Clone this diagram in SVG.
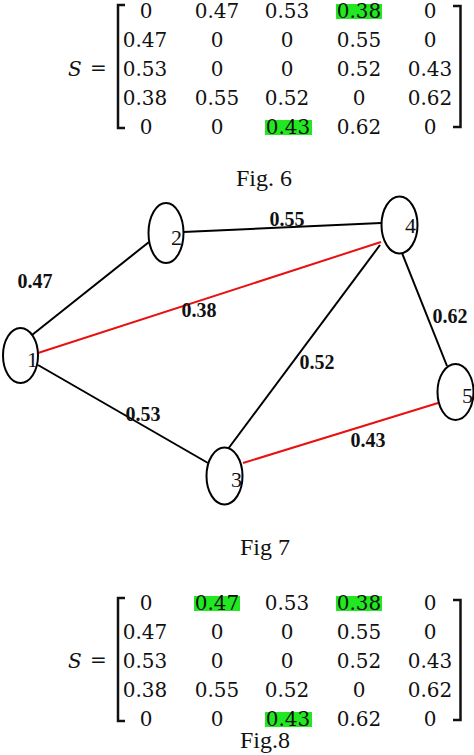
<svg xmlns="http://www.w3.org/2000/svg" width="474" height="755" viewBox="0 0 474 755">
<style>
.m{font-family:"DejaVu Serif","Liberation Serif",serif;font-size:20px;text-anchor:middle;fill:#111}
.s{font-family:"DejaVu Serif","Liberation Serif",serif;font-size:20px;fill:#111}
.br{fill:none;stroke:#111;stroke-width:2.5}
.hl{fill:#22e822}
.cap{font-family:"Liberation Serif",serif;font-size:24px;text-anchor:middle;fill:#111}
.el{font-family:"Liberation Serif",serif;font-size:20px;font-weight:bold;text-anchor:middle;fill:#111}
.nl{font-family:"Liberation Serif",serif;font-size:22px;fill:#111}
.nd{fill:#fff;stroke:#000;stroke-width:2}
.e{stroke:#000;stroke-width:2;fill:none}
.r{stroke:#e81010;stroke-width:2;fill:none}
</style>
<defs>
<clipPath id="c1"><ellipse cx="20.5" cy="355.5" rx="17.5" ry="27.5"/></clipPath>
<clipPath id="c2"><ellipse cx="166" cy="233" rx="17.5" ry="30"/></clipPath>
<clipPath id="c3"><ellipse cx="224.5" cy="476" rx="18" ry="28.5"/></clipPath>
<clipPath id="c4"><ellipse cx="399.5" cy="225" rx="18" ry="28.5"/></clipPath>
<clipPath id="c5"><ellipse cx="455.5" cy="392" rx="18" ry="28"/></clipPath>
</defs>

<g id="matrix6">
<rect class="hl" x="336" y="4" width="46" height="15"/>
<rect class="hl" x="265" y="120" width="47" height="15"/>
<text class="s" x="68" y="76" font-style="italic">S</text>
<text class="s" x="90" y="75">=</text>
<path class="br" d="M125,5 H118 V128 H125"/>
<path class="br" d="M453,6 H460.5 V127 H453"/>
<text class="m" y="18"><tspan x="146">0</tspan><tspan x="217">0.47</tspan><tspan x="287">0.53</tspan><tspan x="359">0.38</tspan><tspan x="430">0</tspan></text>
<text class="m" y="47"><tspan x="145">0.47</tspan><tspan x="217">0</tspan><tspan x="287">0</tspan><tspan x="359">0.55</tspan><tspan x="430">0</tspan></text>
<text class="m" y="76"><tspan x="145">0.53</tspan><tspan x="217">0</tspan><tspan x="287">0</tspan><tspan x="359">0.52</tspan><tspan x="430">0.43</tspan></text>
<text class="m" y="105"><tspan x="145">0.38</tspan><tspan x="217">0.55</tspan><tspan x="287">0.52</tspan><tspan x="359">0</tspan><tspan x="430">0.62</tspan></text>
<text class="m" y="134"><tspan x="146">0</tspan><tspan x="217">0</tspan><tspan x="288">0.43</tspan><tspan x="359">0.62</tspan><tspan x="430">0</tspan></text>
</g>
<text class="cap" x="264" y="186">Fig. 6</text>

<g id="connectors">
<line class="e" x1="32" y1="335" x2="149" y2="242"/>
<line class="e" x1="183" y1="232" x2="381" y2="223"/>
<line class="r" x1="38" y1="353" x2="381" y2="242"/>
<line class="e" x1="380" y1="245" x2="228" y2="449"/>
<line class="e" x1="402" y1="253" x2="447" y2="366"/>
<line class="e" x1="38" y1="365" x2="208" y2="463"/>
<line class="r" x1="243" y1="463" x2="438" y2="403"/>
<text class="el" x="287" y="226">0.55</text>
<text class="el" x="35" y="288">0.47</text>
<text class="el" x="199" y="317">0.38</text>
<text class="el" x="450" y="323">0.62</text>
<text class="el" x="317" y="369">0.52</text>
<text class="el" x="143" y="421">0.53</text>
<text class="el" x="368" y="447">0.43</text>
</g>

<g id="node1"><ellipse class="nd" cx="20.5" cy="355.5" rx="17.5" ry="27.5"/><text class="nl" x="27" y="367" clip-path="url(#c1)">1</text></g>
<g id="node2"><ellipse class="nd" cx="166" cy="233" rx="17.5" ry="30"/><text class="nl" x="171" y="245" clip-path="url(#c2)">2</text></g>
<g id="node3"><ellipse class="nd" cx="224.5" cy="476" rx="18" ry="28.5"/><text class="nl" x="231" y="487" clip-path="url(#c3)">3</text></g>
<g id="node4"><ellipse class="nd" cx="399.5" cy="225" rx="18" ry="28.5"/><text class="nl" x="405" y="233" clip-path="url(#c4)">4</text></g>
<g id="node5"><ellipse class="nd" cx="455.5" cy="392" rx="18" ry="28"/><text class="nl" x="462" y="403" clip-path="url(#c5)">5</text></g>

<text class="cap" x="265" y="555">Fig 7</text>

<g id="matrix8">
<rect class="hl" x="194" y="596" width="46" height="15"/>
<rect class="hl" x="336" y="596" width="46" height="15"/>
<rect class="hl" x="265" y="712" width="47" height="15"/>
<text class="s" x="68" y="668" font-style="italic">S</text>
<text class="s" x="90" y="667">=</text>
<path class="br" d="M125,598 H118 V721 H125"/>
<path class="br" d="M453,600 H460.5 V720 H453"/>
<text class="m" y="610"><tspan x="146">0</tspan><tspan x="217">0.47</tspan><tspan x="287">0.53</tspan><tspan x="359">0.38</tspan><tspan x="430">0</tspan></text>
<text class="m" y="639"><tspan x="145">0.47</tspan><tspan x="217">0</tspan><tspan x="287">0</tspan><tspan x="359">0.55</tspan><tspan x="430">0</tspan></text>
<text class="m" y="668"><tspan x="145">0.53</tspan><tspan x="217">0</tspan><tspan x="287">0</tspan><tspan x="359">0.52</tspan><tspan x="430">0.43</tspan></text>
<text class="m" y="697"><tspan x="145">0.38</tspan><tspan x="217">0.55</tspan><tspan x="287">0.52</tspan><tspan x="359">0</tspan><tspan x="430">0.62</tspan></text>
<text class="m" y="726"><tspan x="146">0</tspan><tspan x="217">0</tspan><tspan x="288">0.43</tspan><tspan x="359">0.62</tspan><tspan x="430">0</tspan></text>
</g>
<text class="cap" x="265" y="748">Fig.8</text>
</svg>
